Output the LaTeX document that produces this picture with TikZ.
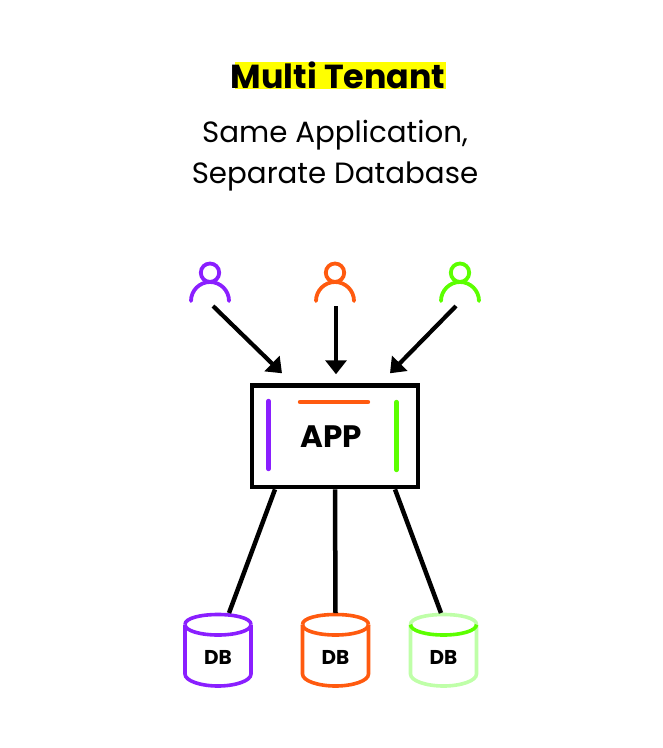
\documentclass[tikz,border=0pt]{standalone}
\usepackage{fontspec}
\setmainfont{Poppins}
\usetikzlibrary{arrows.meta}
\definecolor{cpurple}{HTML}{8A1FFF}
\definecolor{corange}{HTML}{FF5A0F}
\definecolor{cgreen}{HTML}{5CFF00}
\definecolor{clight}{HTML}{BFFFA8}
\definecolor{chl}{HTML}{FFFF00}
\tikzset{
  anchorbox/.style={inner sep=0pt,outer sep=0pt,minimum width=#1},
  userbox/.style={anchorbox=42pt,minimum height=46pt},
  dbbox/.style={anchorbox=68pt,minimum height=74pt},
  userarrow/.style={line width=4.2pt,-{Triangle[length=14pt,width=21pt]}},
  dblink/.style={line width=4.5pt},
  stripe/.style={line width=4.4pt,line cap=round},
  dbtext/.style={font=\bfseries\fontsize{20}{24}\selectfont,inner sep=0pt},
  sub/.style={font=\fontsize{29.3}{41}\selectfont,align=center,inner sep=0pt}
}
\newcommand{\usershape}[2]{%
  \draw[#2,line width=3.8pt] (#1,272.7) circle[radius=9.2pt];
  \draw[#2,line width=3.8pt,line cap=round] (#1-19,301) arc[start angle=180,end angle=0,radius=19pt];
}
\newcommand{\dbshape}[3]{%
  \draw[#2,line width=3.6pt,line join=round]
    (#1-33,624.5) -- (#1-33,674) .. controls (#1-33,681) and (#1-17,686) .. (#1,686)
    .. controls (#1+17,686) and (#1+33,681) .. (#1+33,674) -- (#1+33,624.5);
  \draw[#2,line width=3.6pt] (#1-33,624.5) .. controls (#1-33,618) and (#1-17,614.5) .. (#1,614.5)
    .. controls (#1+17,614.5) and (#1+33,618) .. (#1+33,624.5);
  \draw[#3,line width=3.6pt] (#1-33,624.5) .. controls (#1-33,631) and (#1-17,635) .. (#1,635)
    .. controls (#1+17,635) and (#1+33,631) .. (#1+33,624.5);
}
\begin{document}
\begin{tikzpicture}[x=1pt,y=-1pt]
\useasboundingbox (0,0) rectangle (663,748);
% title
\node[fill=chl,inner sep=0pt,minimum width=211pt,minimum height=27pt] (hl) at (340.5,75.5) {};
\node[font=\bfseries\fontsize{33.3}{38}\selectfont,inner sep=0pt] (title) at (338,75) {Multi Tenant};
\node[sub] (subtitle) at (335,155.5) {Same Application,\\Separate Database};
% users
\usershape{210}{cpurple}
\usershape{335}{corange}
\usershape{460}{cgreen}
\node[userbox] (u1) at (210,283) {};
\node[userbox] (u2) at (335,283) {};
\node[userbox] (u3) at (460,283) {};
% app
\node[draw=black,line width=4.6pt,minimum width=166pt,minimum height=101.5pt,inner sep=0pt] (app) at (335,436.3) {};
\node[font=\bfseries\fontsize{31}{36}\selectfont,inner sep=0pt] (apptext) at (331,437) {APP};
\draw[stripe,cpurple] (268.5,401) -- (268.5,469);
\draw[stripe,corange] (300,402) -- (368,402);
\draw[stripe,cgreen] (396.5,402) -- (396.5,470);
% arrows
\draw[userarrow] ([xshift=3pt]u1.south) -- ([xshift=-53pt,yshift=10pt]app.north);
\draw[userarrow] ([xshift=1pt]u2.south) -- ([xshift=1pt,yshift=9pt]app.north);
\draw[userarrow] ([xshift=-4pt]u3.south) -- ([xshift=55pt,yshift=10pt]app.north);
% databases
\dbshape{218}{cpurple}{cpurple}
\dbshape{335.5}{corange}{corange}
\dbshape{443.5}{clight}{cgreen}
\node[dbbox] (db1) at (218,650) {};
\node[dbbox] (db2) at (335.5,650) {};
\node[dbbox] (db3) at (443.5,650) {};
\node[dbtext] (t1) at (218,657) {DB};
\node[dbtext] (t2) at (335.5,657) {DB};
\node[dbtext] (t3) at (443.5,657) {DB};
% links
\draw[dblink] ([xshift=-60pt]app.south) -- ([xshift=11pt]db1.north);
\draw[dblink] (app.south) -- (db2.north);
\draw[dblink] ([xshift=60pt]app.south) -- ([xshift=-2.5pt]db3.north);
\end{tikzpicture}
\end{document}
